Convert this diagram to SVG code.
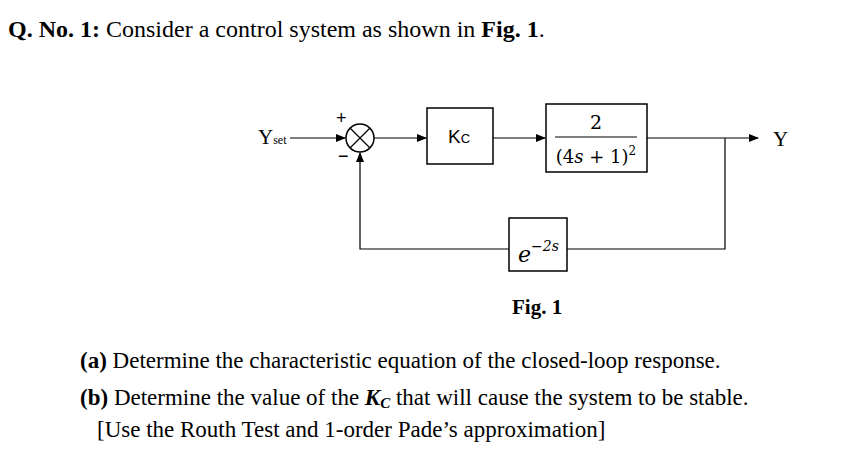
<svg xmlns="http://www.w3.org/2000/svg" width="859" height="458" viewBox="0 0 859 458">
<defs><marker id="ah" markerWidth="10" markerHeight="8" refX="9" refY="4" orient="auto" markerUnits="userSpaceOnUse"><path d="M0,0 L10,4 L0,8 z" fill="#000"/></marker></defs>
<style>.t{font-family:"Liberation Serif",serif;fill:#000}.b{fill:#fff;stroke:#000;stroke-width:1.5}.l{fill:none;stroke:#000;stroke-width:1.2}.s{font-family:"Liberation Sans",sans-serif;fill:#000}.m{font-family:"DejaVu Serif","Liberation Serif",serif;font-style:italic;fill:#000}.n{font-family:"DejaVu Serif","Liberation Serif",serif;fill:#000}</style>
<rect width="859" height="458" fill="#fff"/>
<text class="t" x="8" y="37" font-size="24"><tspan font-weight="bold">Q. No. 1:</tspan> Consider a control system as shown in <tspan font-weight="bold">Fig. 1</tspan>.</text>
<g id="connectors">
<path class="l" d="M290,138 H345" marker-end="url(#ah)"/>
<path class="l" d="M374,138 H426" marker-end="url(#ah)"/>
<path class="l" d="M493,138 H545" marker-end="url(#ah)"/>
<path class="l" d="M647,138 H758" marker-end="url(#ah)"/>
<path class="l" d="M725,138 V249 H567"/>
<path class="l" d="M509,249 H360 V153" marker-end="url(#ah)"/>
</g>
<g id="yset"><text class="t" x="258" y="144" font-size="21">Y<tspan font-size="12">set</tspan></text></g>
<g id="sum"><circle class="b" cx="360" cy="138" r="14"/><path class="l" d="M350,128 L370,148 M370,128 L350,148"/><text class="s" x="336" y="124" font-size="18">+</text><text class="s" x="338" y="162" font-size="18">−</text></g>
<g id="kc"><rect class="b" x="427" y="108" width="66" height="56"/><text class="s" x="448" y="143" font-size="19">K<tspan font-size="13">C</tspan></text></g>
<g id="plant"><rect class="b" x="546" y="104" width="101" height="68"/><text class="n" x="596" y="129" font-size="19" text-anchor="middle">2</text><line x1="555" y1="137" x2="637" y2="137" stroke="#000" stroke-width="1"/><text class="n" x="596" y="163" font-size="18" text-anchor="middle">(4<tspan font-style="italic">s</tspan> + 1)<tspan font-size="12" dy="-8">2</tspan></text></g>
<g id="delay"><rect class="b" x="509" y="218" width="58" height="53"/><text class="m" x="518" y="262" font-size="22">e<tspan font-size="14" dy="-11">−2s</tspan></text></g>
<g id="y"><text class="t" x="773" y="146" font-size="21">Y</text></g>
<text class="t" x="512" y="314" font-size="21" font-weight="bold">Fig. 1</text>
<text class="t" x="80" y="368" font-size="23"><tspan font-weight="bold">(a)</tspan> Determine the characteristic equation of the closed-loop response.</text>
<text class="t" x="80" y="405" font-size="23"><tspan font-weight="bold">(b)</tspan> Determine the value of the <tspan font-weight="bold" font-style="italic">K<tspan font-size="15" dy="3">C</tspan></tspan><tspan dy="-3"> that will cause the system to be stable.</tspan></text>
<text class="t" x="97" y="437" font-size="23">[Use the Routh Test and 1-order Pade’s approximation]</text>
</svg>
